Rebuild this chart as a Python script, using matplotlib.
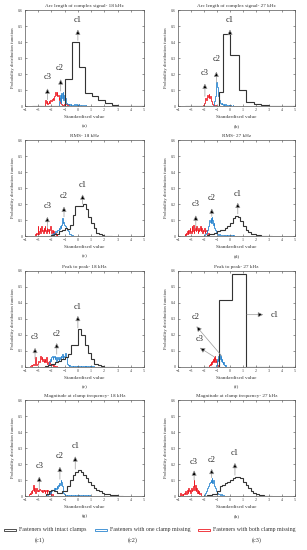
import numpy as np
import matplotlib
matplotlib.use("Agg")
import matplotlib.pyplot as plt
from matplotlib.patches import Rectangle

plt.rcParams['font.family'] = ['Liberation Serif', 'DejaVu Serif']

BLACK = '#333333'
BLUE = '#2b86d0'
RED = '#ee1c25'

titles = ["Arc length of complex signal- 18 kHz", "Arc length of complex signal- 27 kHz",
          "RMS- 18 kHz", "RMS- 27 kHz",
          "Peak to peak- 18 kHz", "Peak to peak- 27 kHz",
          "Magnitude at clamp frequency- 18 kHz", "Magnitude at clamp frequency- 27 kHz"]
letters = ["(a)", "(b)", "(c)", "(d)", "(e)", "(f)", "(g)", "(h)"]
x_ticks = [-4, -3, -2, -1, 0, 1, 2, 3, 4, 5]
y_ticks = [0, 0.1, 0.2, 0.3, 0.4, 0.5, 0.6]
legend_labels = ["Fasteners with intact clamps", "Fasteners with one clamp missing",
                 "Fasteners with both clamp missing"]
legend_codes = ["(c1)", "(c2)", "(c3)"]

# ---- (a) ----
a_c1_edges = [-3.5, -0.95, -0.45, 0.05, 0.55, 1.05, 1.55, 2.05, 2.55, 3.05, 5.0]
a_c1_vals = [0.002, 0.17, 0.40, 0.245, 0.08, 0.065, 0.04, 0.02, 0.005, 0.001]
a_c2_start, a_c2_w = -1.45, 0.05
a_c2_vals = [0.01, 0.03, 0.07, 0.02, 0.08, 0.05, 0.09, 0.04, 0.07, 0.03, 0.05, 0.02, 0.015, 0.01,
             0.01, 0.005, 0.01, 0.005, 0.01, 0.005, 0.0, 0.005, 0.0, 0.01, 0.005, 0.0, 0.01, 0.0,
             0.005, 0.0, 0.01, 0.005, 0.0, 0.005, 0.0, 0.005, 0.0, 0.0, 0.005, 0.0, 0.0, 0.005]
a_c3_start, a_c3_w = -2.5, 0.05
a_c3_vals = [0.0, 0.04, 0.02, 0.03, 0.015, 0.02, 0.03, 0.02, 0.035, 0.04, 0.03, 0.045, 0.05, 0.04,
             0.06, 0.07, 0.09, 0.07, 0.085, 0.06, 0.07, 0.04, 0.05, 0.02, 0.015, 0.01, 0.0, 0.005,
             0.0, 0.01, 0.02, 0.01, 0.015, 0.005, 0.01, 0.0, 0.005]

# ---- (b) ----
b_c1_edges = [-3.5, -0.88, -0.54, 0.03, 0.66, 1.23, 1.83, 2.42, 3.0, 5.0]
b_c1_vals = [0.0, 0.085, 0.448, 0.321, 0.099, 0.027, 0.015, 0.005, 0.0]
b_c2_start, b_c2_w = -1.25, 0.05
b_c2_vals = [0.01, 0.03, 0.06, 0.1, 0.15, 0.12, 0.09, 0.06, 0.04, 0.03, 0.02, 0.01, 0.02, 0.01,
             0.005, 0.01, 0.0, 0.005, 0.01, 0.0, 0.005, 0.0, 0.005, 0.0, 0.005, 0.0, 0.005, 0.0,
             0.0, 0.005, 0.0]
b_c3_start, b_c3_w = -2.05, 0.05
b_c3_vals = [0.005, 0.02, 0.03, 0.05, 0.04, 0.06, 0.07, 0.055, 0.075, 0.05, 0.065, 0.04, 0.03,
             0.02, 0.01, 0.005, 0.0, 0.005, 0.0, 0.005]

# ---- (c) ----
c_c1_start, c_c1_w = -2.2, 0.2
c_c1_vals = [0.002, 0.005, 0.01, 0.015, 0.03, 0.04, 0.05, 0.045, 0.07, 0.13, 0.19, 0.185, 0.19,
             0.2, 0.17, 0.12, 0.08, 0.05, 0.02, 0.01, 0.005, 0.003, 0.002, 0.001]
c_c2_start, c_c2_w = -2.0, 0.05
c_c2_vals = [0.005, 0.01, 0.01, 0.02, 0.015, 0.02, 0.03, 0.025, 0.03, 0.04, 0.035, 0.05, 0.045,
             0.06, 0.05, 0.07, 0.11, 0.08, 0.09, 0.07, 0.06, 0.065, 0.05, 0.04, 0.035, 0.03, 0.02,
             0.015, 0.01, 0.01, 0.005, 0.005]
c_c3_start, c_c3_w = -3.25, 0.05
c_c3_vals = [0.01, 0.005, 0.02, 0.01, 0.06, 0.01, 0.03, 0.05, 0.02, 0.06, 0.03, 0.04, 0.02, 0.05,
             0.03, 0.06, 0.04, 0.02, 0.05, 0.03, 0.045, 0.02, 0.04, 0.06, 0.03, 0.02, 0.04, 0.01,
             0.03, 0.02, 0.01, 0.02, 0.005, 0.01]

# ---- (d) ----
d_c1_start, d_c1_w = -1.8, 0.2
d_c1_vals = [0.005, 0.01, 0.015, 0.02, 0.03, 0.035, 0.04, 0.05, 0.06, 0.08, 0.11, 0.125, 0.12,
             0.095, 0.06, 0.04, 0.025, 0.015, 0.01, 0.006, 0.004, 0.003, 0.002, 0.002, 0.001]
d_c2_start, d_c2_w = -2.0, 0.05
d_c2_vals = [0.005, 0.01, 0.01, 0.02, 0.03, 0.04, 0.06, 0.08, 0.1, 0.09, 0.11, 0.08, 0.12, 0.1,
             0.07, 0.08, 0.05, 0.04, 0.03, 0.02, 0.015, 0.01, 0.005, 0.01, 0.005, 0.005, 0.0,
             0.005, 0.005, 0.0, 0.005, 0.0, 0.005, 0.0, 0.005, 0.0, 0.005, 0.0, 0.0, 0.005, 0.0,
             0.005, 0.0, 0.005, 0.0, 0.005]
d_c3_start, d_c3_w = -3.5, 0.05
d_c3_vals = [0.01, 0.0, 0.02, 0.01, 0.03, 0.01, 0.04, 0.02, 0.05, 0.03, 0.02, 0.06, 0.03, 0.07,
             0.02, 0.04, 0.05, 0.03, 0.06, 0.04, 0.02, 0.05, 0.03, 0.04, 0.06, 0.03, 0.05, 0.02,
             0.04, 0.03, 0.05, 0.02, 0.03, 0.04, 0.02, 0.01, 0.02, 0.01]

# ---- (e) ----
e_c1_start, e_c1_w = -2.5, 0.25
e_c1_vals = [0.005, 0.01, 0.02, 0.03, 0.04, 0.05, 0.06, 0.08, 0.14, 0.14, 0.24, 0.2, 0.14, 0.09,
             0.05, 0.02, 0.01, 0.005, 0.003, 0.002, 0.001]
e_c2_start, e_c2_w = -2.3, 0.05
e_c2_vals = [0.005, 0.01, 0.02, 0.03, 0.05, 0.04, 0.06, 0.07, 0.05, 0.06, 0.07, 0.05, 0.06, 0.04,
             0.05, 0.06, 0.05, 0.04, 0.06, 0.05, 0.07, 0.06, 0.08, 0.05, 0.07, 0.06, 0.08, 0.09,
             0.06, 0.03, 0.02, 0.01, 0.005, 0.01, 0.005, 0.005, 0.0, 0.005, 0.0, 0.005, 0.0,
             0.005, 0.0, 0.005, 0.0, 0.005, 0.0, 0.005, 0.0, 0.005, 0.0, 0.005, 0.0, 0.005, 0.0,
             0.005, 0.0, 0.005, 0.0, 0.005, 0.0, 0.005, 0.0, 0.005, 0.0, 0.005, 0.0, 0.005, 0.0,
             0.005]
e_c3_start, e_c3_w = -3.6, 0.05
e_c3_vals = [0.005, 0.01, 0.005, 0.01, 0.02, 0.01, 0.015, 0.06, 0.02, 0.01, 0.02, 0.03, 0.04,
             0.03, 0.05, 0.07, 0.05, 0.06, 0.04, 0.05, 0.03, 0.04, 0.05, 0.03, 0.06, 0.04, 0.02,
             0.03, 0.01, 0.04, 0.02, 0.01, 0.02, 0.01, 0.005, 0.01, 0.0, 0.005, 0.0, 0.005]

# ---- (f) ----
f_c1_edges = [-2.0, -0.88, 0.18, 1.26, 5.0]
f_c1_vals = [0.0, 0.42, 0.58, 0.0]
f_c2_start, f_c2_w = -1.05, 0.04
f_c2_vals = [0.01, 0.03, 0.05, 0.04, 0.07, 0.06, 0.08, 0.05, 0.07, 0.04, 0.05, 0.03, 0.02, 0.03,
             0.01, 0.015, 0.005, 0.01, 0.005]
f_c3_start, f_c3_w = -1.65, 0.04
f_c3_vals = [0.005, 0.01, 0.02, 0.01, 0.03, 0.02, 0.04, 0.03, 0.05, 0.04, 0.06, 0.03, 0.07, 0.05,
             0.03, 0.04, 0.02, 0.01, 0.015, 0.005, 0.01]

# ---- (g) ----
g_c1_start, g_c1_w = -2.4, 0.2
g_c1_vals = [0.01, 0.03, 0.035, 0.03, 0.02, 0.02, 0.03, 0.03, 0.06, 0.1, 0.13, 0.15, 0.165, 0.15,
             0.13, 0.11, 0.09, 0.07, 0.05, 0.04, 0.03, 0.02, 0.015, 0.01, 0.008, 0.005, 0.004,
             0.003, 0.002]
g_c2_start, g_c2_w = -2.3, 0.05
g_c2_vals = [0.005, 0.01, 0.02, 0.015, 0.03, 0.02, 0.03, 0.04, 0.035, 0.04, 0.05, 0.04, 0.05,
             0.045, 0.06, 0.05, 0.07, 0.06, 0.08, 0.07, 0.1, 0.09, 0.06, 0.04, 0.02, 0.01, 0.005,
             0.0, 0.005, 0.0, 0.005, 0.0, 0.005, 0.0, 0.005, 0.0, 0.005, 0.0, 0.005, 0.0, 0.005,
             0.0, 0.005, 0.0, 0.005, 0.0, 0.005, 0.0, 0.005, 0.0, 0.005, 0.0, 0.005, 0.0, 0.005,
             0.0, 0.005, 0.0, 0.005, 0.0, 0.005, 0.0, 0.005, 0.0, 0.005, 0.0]
g_c3_start, g_c3_w = -3.7, 0.05
g_c3_vals = [0.01, 0.02, 0.01, 0.03, 0.02, 0.04, 0.07, 0.03, 0.05, 0.02, 0.04, 0.05, 0.03, 0.04,
             0.03, 0.045, 0.035, 0.04, 0.03, 0.04, 0.025, 0.035, 0.03, 0.04, 0.02, 0.03, 0.04,
             0.02, 0.035, 0.03, 0.02, 0.03, 0.01, 0.02, 0.005, 0.01]

# ---- (h) ----
h_c1_start, h_c1_w = -2.0, 0.2
h_c1_vals = [0.003, 0.005, 0.007, 0.01, 0.015, 0.03, 0.06, 0.07, 0.08, 0.09, 0.1, 0.11, 0.12,
             0.12, 0.11, 0.09, 0.07, 0.05, 0.03, 0.02, 0.01, 0.007, 0.005, 0.003, 0.002, 0.001]
h_c2_start, h_c2_w = -2.0, 0.05
h_c2_vals = [0.005, 0.01, 0.02, 0.03, 0.04, 0.05, 0.06, 0.07, 0.08, 0.09, 0.1, 0.09, 0.11, 0.08,
             0.1, 0.07, 0.06, 0.05, 0.04, 0.03, 0.02, 0.015, 0.01, 0.01, 0.005, 0.005, 0.01,
             0.005, 0.0, 0.005]
h_c3_start, h_c3_w = -3.85, 0.05
h_c3_vals = [0.02, 0.005, 0.0, 0.01, 0.0, 0.01, 0.02, 0.01, 0.03, 0.02, 0.01, 0.04, 0.02, 0.05,
             0.03, 0.04, 0.02, 0.05, 0.03, 0.04, 0.06, 0.1, 0.04, 0.07, 0.03, 0.05, 0.02, 0.04,
             0.02, 0.03, 0.01, 0.02, 0.005]


def edges_for(start, w, vals):
    return start + w * np.arange(len(vals) + 1)


c1_data = [(a_c1_edges, a_c1_vals), (b_c1_edges, b_c1_vals),
           (edges_for(c_c1_start, c_c1_w, c_c1_vals), c_c1_vals),
           (edges_for(d_c1_start, d_c1_w, d_c1_vals), d_c1_vals),
           (edges_for(e_c1_start, e_c1_w, e_c1_vals), e_c1_vals),
           (f_c1_edges, f_c1_vals),
           (edges_for(g_c1_start, g_c1_w, g_c1_vals), g_c1_vals),
           (edges_for(h_c1_start, h_c1_w, h_c1_vals), h_c1_vals)]
c2_data = [(a_c2_start, a_c2_w, a_c2_vals), (b_c2_start, b_c2_w, b_c2_vals),
           (c_c2_start, c_c2_w, c_c2_vals), (d_c2_start, d_c2_w, d_c2_vals),
           (e_c2_start, e_c2_w, e_c2_vals), (f_c2_start, f_c2_w, f_c2_vals),
           (g_c2_start, g_c2_w, g_c2_vals), (h_c2_start, h_c2_w, h_c2_vals)]
c3_data = [(a_c3_start, a_c3_w, a_c3_vals), (b_c3_start, b_c3_w, b_c3_vals),
           (c_c3_start, c_c3_w, c_c3_vals), (d_c3_start, d_c3_w, d_c3_vals),
           (e_c3_start, e_c3_w, e_c3_vals), (f_c3_start, f_c3_w, f_c3_vals),
           (g_c3_start, g_c3_w, g_c3_vals), (h_c3_start, h_c3_w, h_c3_vals)]

# annotation: label, tail(x,y), head(x,y), text(x,y)
notes = [
    [("c1", 0.0, 0.41, 0.0, 0.478, 0.0, 0.51), ("c2", -1.3, 0.093, -1.3, 0.167, -1.36, 0.21),
     ("c3", -2.3, 0.04, -2.3, 0.11, -2.31, 0.156)],
    [("c1", 0.0, 0.45, 0.0, 0.478, 0.0, 0.51), ("c2", -1.05, 0.146, -1.05, 0.215, -1.07, 0.266),
     ("c3", -1.93, 0.06, -1.93, 0.14, -1.93, 0.18)],
    [("c1", 0.36, 0.2, 0.36, 0.26, 0.36, 0.293), ("c2", -1.05, 0.12, -1.05, 0.184, -1.05, 0.224),
     ("c3", -2.31, 0.05, -2.31, 0.12, -2.31, 0.163)],
    [("c1", 0.6, 0.138, 0.6, 0.208, 0.6, 0.235), ("c2", -1.4, 0.123, -1.4, 0.172, -1.4, 0.212),
     ("c3", -2.63, 0.05, -2.63, 0.129, -2.63, 0.172)],
    [("c1", 0.0, 0.244, 0.0, 0.32, 0.0, 0.352), ("c2", -1.6, 0.08, -1.6, 0.15, -1.6, 0.184),
     ("c3", -3.24, 0.05, -3.24, 0.12, -3.24, 0.162)],
    [("c1", 1.3, 0.327, 2.55, 0.327, 3.1, 0.327), ("c2", -0.65, 0.07, -2.58, 0.254, -2.63, 0.29),
     ("c3", -1.15, 0.06, -2.32, 0.12, -2.37, 0.15)],
    [("c1", -0.2, 0.168, -0.2, 0.248, -0.2, 0.288), ("c2", -1.36, 0.105, -1.36, 0.183, -1.36, 0.225),
     ("c3", -2.92, 0.042, -2.92, 0.122, -2.92, 0.162)],
    [("c1", 0.38, 0.13, 0.38, 0.207, 0.38, 0.245), ("c2", -1.41, 0.115, -1.41, 0.17, -1.41, 0.2),
     ("c3", -2.76, 0.1, -2.76, 0.16, -2.76, 0.19)],
]

W, H = 307, 550
fig = plt.figure(figsize=(W / 100, H / 100), dpi=100)

col_left = [25, 178]
col_width = [119, 117]
row_top = [10, 140, 271, 400]
row_h = 96

for i in range(8):
    r, c = divmod(i, 2)
    ax = fig.add_axes([col_left[c] / W, 1 - (row_top[r] + row_h) / H, col_width[c] / W, row_h / H])

    st, w, v = c3_data[i]
    ax.stairs(v, edges_for(st, w, v), color=RED, lw=0.6)
    st, w, v = c2_data[i]
    ax.stairs(v, edges_for(st, w, v), color=BLUE, lw=0.6)
    e, v = c1_data[i]
    ax.stairs(v, e, color=BLACK, lw=0.8)

    for lab, tx, ty, hx, hy, lx, ly in notes[i]:
        ax.annotate("", xy=(hx, hy), xytext=(tx, ty),
                    arrowprops=dict(arrowstyle='-|>,head_length=0.3,head_width=0.15',
                                    fc='black', ec='#9a9a9a', lw=0.5, shrinkA=0, shrinkB=0))
        side = (i == 5 and lab == 'c1')
        ax.text(lx, ly, lab, fontsize=6, ha='left' if side else 'center',
                va='center' if side else 'bottom', color='#222222')

    ax.set_xlim(-4, 5)
    ax.set_ylim(0, 0.6)
    ax.set_xticks(x_ticks)
    ax.set_yticks(y_ticks)
    ax.set_yticklabels([f"{t:g}" for t in y_ticks])
    ax.tick_params(direction='in', length=1.5, width=0.4, labelsize=3.0, pad=1.5,
                   top=True, right=True, colors='#444444')
    for s in ax.spines.values():
        s.set_linewidth(0.5)
        s.set_color('#555555')
    ax.set_title(titles[i], fontsize=3.7, pad=2, color='#333333')
    ax.set_ylabel("Probability distribution function", fontsize=3.3, labelpad=2, color='#333333')
    ax.set_xlabel("Standardised value", fontsize=3.8, labelpad=2, color='#333333')
    ax.text(0.5, -0.19, letters[i], transform=ax.transAxes, ha='center', va='top',
            fontsize=3.8, color='#333333')

# legend drawn by hand: patch box + label, code underneath
patch_x = [4, 95, 198]
text_x = [19, 110, 213]
code_x = [40, 133, 257]
for col, px, tx, cx, lab, code in zip([BLACK, BLUE, RED], patch_x, text_x, code_x,
                                      legend_labels, legend_codes):
    fig.patches.append(Rectangle((px / W, 1 - 531 / H), 12 / W, 2.5 / H, transform=fig.transFigure,
                                 facecolor='white', edgecolor=col, lw=0.6))
    fig.text(tx / W, 1 - 529.5 / H, lab, ha='left', va='center', fontsize=4.2, color='#333333')
    fig.text(cx / W, 1 - 540 / H, code, ha='center', va='center', fontsize=4.5, color='#333333')

fig.savefig("out.png", dpi=100)
